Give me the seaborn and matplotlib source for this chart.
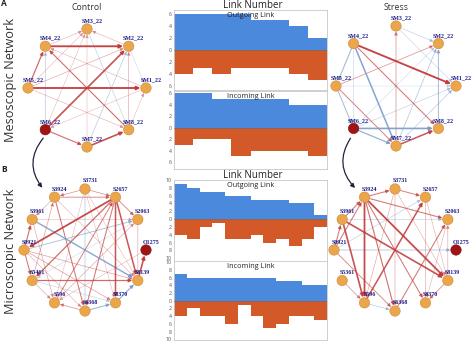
import numpy as np
import pandas as pd
import matplotlib
matplotlib.use("Agg")
import matplotlib.pyplot as plt
import seaborn as sns
from matplotlib.patches import Circle, FancyArrowPatch

# ---------------- data ----------------
meso_nodes = ["SM3_22", "SM2_22", "SM1_22", "SM8_22", "SM7_22", "SM6_22", "SM5_22", "SM4_22"]
micro_nodes_control = ["S3731", "S2657", "S2063", "O1275", "S8139", "S8370", "S6368",
                       "S596", "S5461", "S0921", "S3961", "S3924"]
micro_nodes_stress = ["S3731", "S2657", "S2063", "O1275", "S8139", "S8370", "S6368",
                      "S596", "S5361", "S0921", "S3961", "S3924"]

meso_out_pos = [6, 6, 6, 6, 5, 5, 4, 2]
meso_out_neg = [4, 3, 4, 3, 3, 3, 4, 5]
meso_in_pos = [6, 6, 5, 5, 5, 5, 4, 4]
meso_in_neg = [3, 2, 2, 5, 4, 4, 4, 5]
micro_out_pos = [9, 8, 7, 7, 6, 6, 5, 5, 5, 4, 4, 1]
micro_out_neg = [4, 5, 2, 1, 5, 5, 4, 6, 5, 7, 5, 2]
micro_in_pos = [7, 6, 6, 6, 6, 6, 6, 6, 5, 5, 4, 4]
micro_in_neg = [4, 2, 4, 4, 6, 1, 4, 7, 6, 4, 4, 5]

# edges: (source, target, signed strength)  + = red, - = blue
meso_control_edges = [(7, 1, 1.0), (6, 2, 1.0), (5, 1, 0.9), (4, 3, 0.9), (5, 4, 0.65),
                      (6, 7, 0.7), (3, 7, 0.65), (5, 7, -0.35), (4, 1, -0.35), (0, 3, -0.3),
                      (1, 2, -0.2), (7, 0, 0.25), (1, 0, 0.25), (6, 0, 0.2), (2, 7, 0.25),
                      (6, 1, 0.3), (6, 3, 0.25), (2, 5, 0.2), (3, 1, 0.3), (4, 0, 0.2),
                      (5, 0, 0.2), (3, 2, 0.2)]
meso_stress_edges = [(7, 2, 1.0), (7, 3, 0.6), (7, 4, -0.85), (7, 6, -0.6), (7, 5, -0.25),
                     (6, 5, -0.55), (6, 4, 0.55), (6, 1, 0.4), (5, 3, -0.9), (5, 4, -0.7),
                     (4, 3, 0.85), (4, 0, 0.4), (4, 1, -0.4), (4, 2, -0.35), (3, 1, -0.55),
                     (5, 2, -0.3), (0, 1, -0.3), (0, 2, -0.25), (5, 1, -0.2), (6, 2, -0.15)]
micro_control_edges = [(1, 9, 0.95), (1, 8, 0.7), (1, 5, 0.85), (1, 4, 0.85), (1, 6, 0.6),
                       (11, 1, 0.5), (1, 2, 0.5), (10, 4, -0.8), (9, 2, -0.5), (4, 3, 0.9),
                       (5, 4, -0.7), (6, 5, -0.6), (8, 4, 0.7), (9, 10, 0.65), (9, 8, 0.6),
                       (9, 4, 0.35), (11, 6, 0.6), (0, 6, -0.4), (8, 11, 0.35), (7, 2, 0.3),
                       (7, 1, 0.55), (10, 7, 0.3), (8, 7, 0.3), (6, 7, 0.4), (9, 5, 0.35),
                       (0, 11, 0.4), (0, 1, 0.4), (11, 10, 0.3), (11, 4, 0.25), (10, 2, 0.2),
                       (0, 7, 0.2), (0, 5, 0.2), (2, 4, 0.3), (9, 6, 0.25), (8, 5, -0.25),
                       (3, 7, 0.2), (2, 8, -0.2), (0, 4, 0.2)]
micro_stress_edges = [(11, 4, 0.95), (10, 4, 0.9), (11, 7, 0.95), (10, 7, 0.9), (11, 6, 0.65),
                      (11, 5, 0.6), (11, 2, 0.6), (11, 0, 0.6), (0, 1, 0.55), (7, 1, 0.85),
                      (6, 2, 0.6), (9, 3, -0.45), (9, 10, 0.6), (9, 11, 0.6), (9, 6, 0.5),
                      (9, 1, -0.3), (10, 2, -0.3), (8, 7, 0.4), (7, 6, -0.35), (4, 5, 0.45),
                      (4, 2, 0.3), (0, 7, 0.3), (0, 6, 0.3), (1, 4, 0.25), (1, 5, 0.3),
                      (2, 5, 0.25), (0, 4, 0.25), (10, 11, 0.6)]

# ---------------- style ----------------
sns.set_style("white")
plt.rcParams["font.family"] = ["Open Sans", "DejaVu Sans"]

BLUE = "#4a89dc"
ORANGE = "#d35a28"
RED_EDGE = "#c23a3a"
BLUE_EDGE = "#7398c6"
NODE = "#eba54b"
NODE_RED = "#a01414"
LABEL = "#1c1c8a"

W, H = 474, 342
fig = plt.figure(figsize=(W / 100, H / 100), dpi=100)
ax = fig.add_axes([0, 0, 1, 1])
ax.set_xlim(0, W)
ax.set_ylim(H, 0)
ax.axis("off")


def draw_network(cx, cy, r, names, edges, red_idx):
    n = len(names)
    ang = np.deg2rad(90 - np.arange(n) * 360 / n)
    xs = cx + r * np.cos(ang)
    ys = cy - r * np.sin(ang)
    for s, t, w in edges:
        col = RED_EDGE if w > 0 else BLUE_EDGE
        a = abs(w)
        arr = FancyArrowPatch((xs[s], ys[s]), (xs[t], ys[t]),
                              arrowstyle="-|>", mutation_scale=5,
                              shrinkA=3.5, shrinkB=4.0,
                              lw=0.25 + 1.1 * a ** 1.5, color=col,
                              alpha=0.28 + 0.67 * a, zorder=2 + a)
        ax.add_patch(arr)
    for i, name in enumerate(names):
        fc = NODE_RED if i == red_idx else NODE
        ax.add_patch(Circle((xs[i], ys[i]), 5.2, fc=fc, ec="#c98a3a" if i != red_idx else "#7a0c0c",
                            lw=0.4, zorder=6))
        ax.text(xs[i] + 5, ys[i] - 8, name, ha="center", va="center", fontsize=4.3,
                family="Liberation Serif", weight="bold", color=LABEL, zorder=7)


draw_network(87, 88, 59, meso_nodes, meso_control_edges, 5)
draw_network(396, 86, 60, meso_nodes, meso_stress_edges, 5)
draw_network(85, 250, 61, micro_nodes_control, micro_control_edges, 3)
draw_network(395, 250, 61, micro_nodes_stress, micro_stress_edges, 3)

# curved link arrows from mesoscopic node to microscopic network
for (x1, y1), (x2, y2) in [((45, 136), (44, 190)), ((352, 136), (357, 190))]:
    ax.add_patch(FancyArrowPatch((x1, y1), (x2, y2), connectionstyle="arc3,rad=0.42",
                                 arrowstyle="-|>", mutation_scale=6, lw=0.9,
                                 color="#2a1e3e", zorder=8))

# text labels
ax.text(87, 7, "Control", ha="center", va="center", fontsize=6.3, color="#333333")
ax.text(396, 7, "Stress", ha="center", va="center", fontsize=6.3, color="#333333")
ax.text(11, 80, "Mesoscopic Network", rotation=90, ha="center", va="center",
        fontsize=9.2, color="#333333")
ax.text(11, 251, "Microscopic Network", rotation=90, ha="center", va="center",
        fontsize=9.2, color="#333333")
ax.text(1, 4, "A", ha="left", va="center", fontsize=6, weight="bold", color="#222222")
ax.text(1, 169, "B", ha="left", va="center", fontsize=6, weight="bold", color="#222222")
ax.text(253, 6, "Link Number", ha="center", va="center", fontsize=7, color="#222222")
ax.text(253, 175, "Link Number", ha="center", va="center", fontsize=7, color="#222222")


def bar_panel(top, bottom, pos, neg, ylim, ticks, title):
    x0, x1 = 174, 327
    axp = fig.add_axes([x0 / W, 1 - bottom / H, (x1 - x0) / W, (bottom - top) / H])
    n = len(pos)
    df = pd.DataFrame({"node": np.arange(n), "pos": pos, "neg": -np.asarray(neg)})
    sns.barplot(data=df, x="node", y="pos", color=BLUE, width=1.0, errorbar=None,
                saturation=1, linewidth=0, ax=axp)
    sns.barplot(data=df, x="node", y="neg", color=ORANGE, width=1.0, errorbar=None,
                saturation=1, linewidth=0, ax=axp)
    axp.axhline(0, color="#6e6e6e", lw=0.5, zorder=5)
    axp.set_xlim(-0.5, n - 0.5)
    axp.set_ylim(*ylim)
    axp.set_xlabel("")
    axp.set_ylabel("")
    axp.set_xticks([])
    axp.set_yticks(ticks)
    axp.set_yticklabels([str(abs(t)) for t in ticks])
    axp.tick_params(axis="y", length=0, pad=1.5, labelsize=3.8, labelcolor="#555555")
    for sp in axp.spines.values():
        sp.set_color("#c8c8c8")
        sp.set_linewidth(0.6)
    axp.text(0.5, 0.93, title, transform=axp.transAxes,
             ha="center", va="center", fontsize=5.2, color="#222222", zorder=10)
    axp.set_facecolor("white")
    return axp


bar_panel(10, 89.5, meso_out_pos, meso_out_neg, (-6.6, 6.6), [-6, -4, -2, 0, 2, 4, 6], "Outgoing Link")
bar_panel(91, 169, meso_in_pos, meso_in_neg, (-7.2, 6.4), [-6, -4, -2, 0, 2, 4, 6], "Incoming Link")
bar_panel(180, 260.5, micro_out_pos, micro_out_neg, (-10.6, 10.0),
          [-10, -8, -6, -4, -2, 0, 2, 4, 6, 8, 10], "Outgoing Link")
bar_panel(261, 340, micro_in_pos, micro_in_neg, (-10.2, 10.3),
          [-10, -8, -6, -4, -2, 0, 2, 4, 6, 8, 10], "Incoming Link")

fig.savefig("out.png", dpi=100)
